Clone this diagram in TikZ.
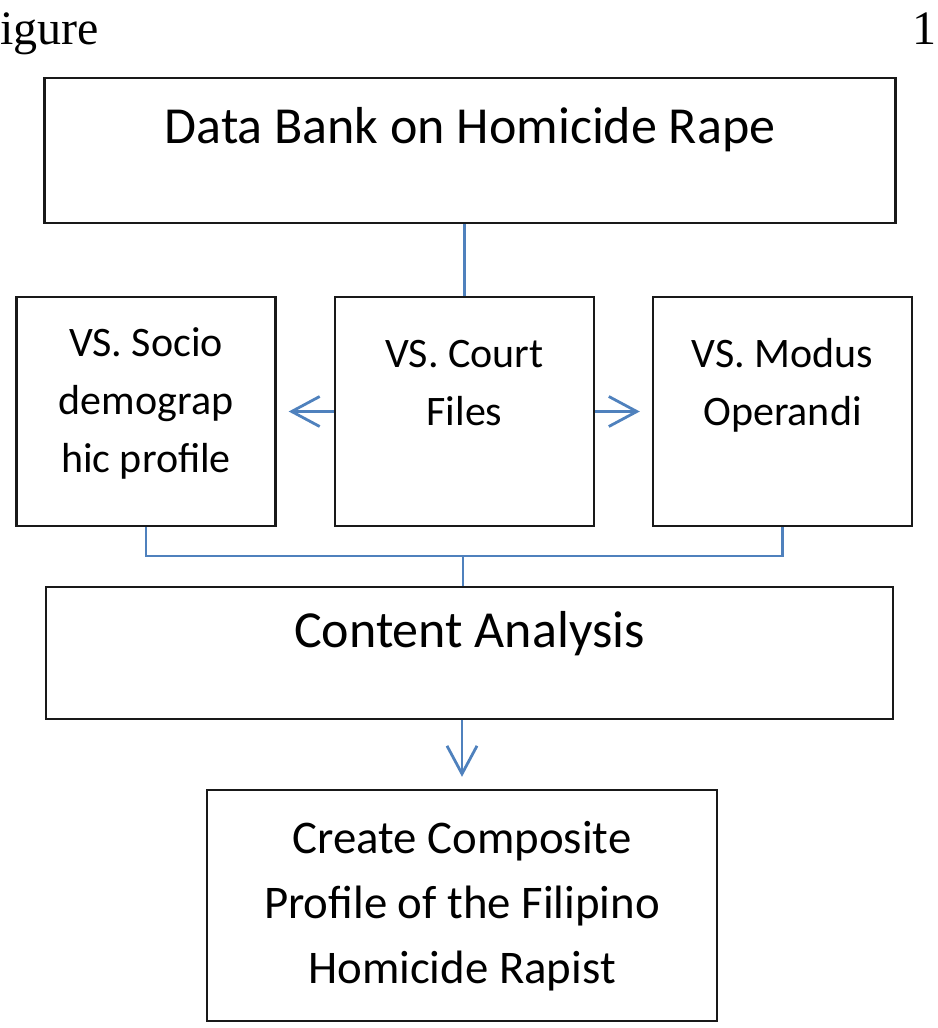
\documentclass[tikz,border=0pt]{standalone}
\usepackage{fontspec}
\setmainfont{Carlito}
\newfontfamily\pagefont{Liberation Serif}
\usepackage{xcolor}
\usepackage{tikz}
\usetikzlibrary{arrows.meta, positioning}
\definecolor{linkblue}{HTML}{4F81BD}

\begin{document}
\begin{tikzpicture}[x=0.5pt, y=-0.5pt,
        box/.style={draw=black!90, line width=1.2pt, inner sep=0pt},
        mid/.style={box, minimum width=129.5pt, minimum height=114.5pt},
        txt/.style={inner sep=0pt, align=center},
        large/.style={font=\fontsize{26}{31}\selectfont},
        small/.style={font=\fontsize{21}{29}\selectfont},
        link/.style={draw=linkblue, line width=1.4pt},
        flow/.style={link, -{Straight Barb[length=14pt, width=15pt]}, shorten >=6pt}]
        \useasboundingbox (0,0) rectangle (937,1028);

        \node[txt, anchor=base west, font=\pagefont\fontsize{24}{28}\selectfont] (fig) at (0,44) {igure};
        \node[txt, anchor=base west, font=\pagefont\fontsize{24}{28}\selectfont] (num) at (912,44) {1};

        \node[box, minimum width=425.5pt, minimum height=72.5pt] (bank) at (470,150.5) {};
        \node[mid] (socio) at (146,411.5) {};
        \node[mid] (court) at (464.5,411.5) {};
        \node[mid] (modus) at (782.5,411.5) {};
        \node[box, minimum width=423.5pt, minimum height=66pt] (content) at (469.5,653) {};
        \node[box, minimum width=255pt, minimum height=115.5pt] (create) at (462,905.5) {};

        \node[txt, large, below=15pt of bank.north] (banktext) {Data Bank on Homicide Rape};
        \node[txt, small, below=15.5pt of socio.north] (sociotext) {VS. Socio\\demograp\\hic profile};
        \node[txt, small, below=22pt of court.north] (courttext) {VS. Court\\Files};
        \node[txt, small, below=21pt of modus.north] (modustext) {VS. Modus\\Operandi};
        \node[txt, large, below=12.5pt of content.north] (contenttext) {Content Analysis};
        \node[txt, font=\fontsize{23.4}{32.5}\selectfont, below=16pt of create.north] (createtext)
            {Create Composite\\Profile of the Filipino\\Homicide Rapist};

        \coordinate (join) at (463,556);
        \draw[link] (court.north) -- (court.north |- bank.south);
        \draw[link] (socio.south) |- (join) -| (modus.south);
        \draw[link] (join) -- (join |- content.north);
        \draw[flow] (court.west) -- (socio.east);
        \draw[flow] (court.east) -- (modus.west);
        \draw[flow] (create.north |- content.south) -- (create.north);
\end{tikzpicture}
\end{document}
